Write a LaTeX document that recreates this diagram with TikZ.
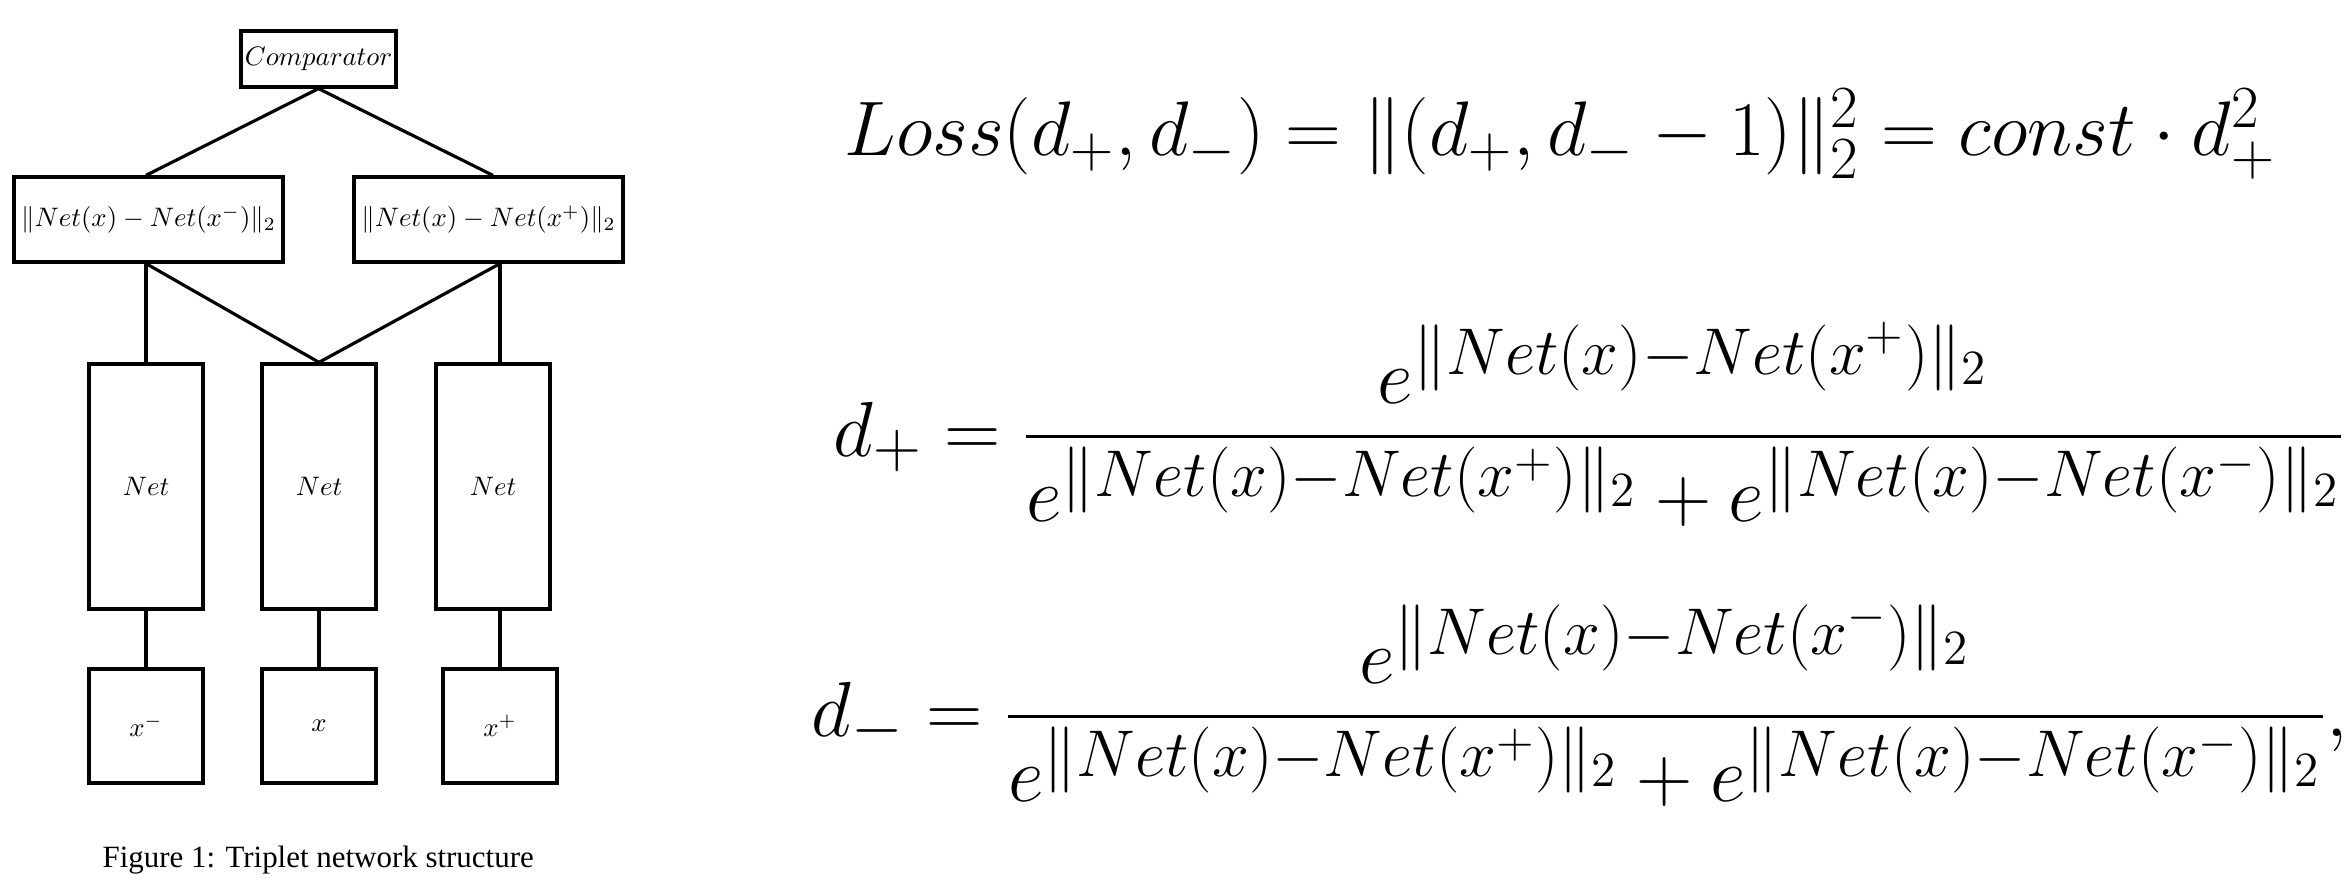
\documentclass[tikz,border=0pt]{standalone}
\usepackage{fix-cm}
\usepackage{amsmath}
\usepackage{graphicx}
\usepackage{fontspec}
\newfontfamily\captionfont{Liberation Serif}
\usetikzlibrary{positioning,calc}
\DeclareMathSizes{22}{22}{17}{13}
\DeclareMathSizes{22.2}{22.2}{18.8}{14}
\newcommand{\boxmath}[1]{\scalebox{0.76}{$#1$}}

\begin{document}
\begin{tikzpicture}[x=0.01cm, y=-0.01cm, line width=0.9pt,
    box/.style={draw, inner sep=0},
    netbox/.style={box, minimum width=1.14cm, minimum height=2.45cm},
    inbox/.style={box, minimum width=1.14cm, minimum height=1.14cm},
    normbox/.style={box, minimum width=2.69cm, minimum height=0.85cm},
    formula/.style={anchor=base west, inner sep=0, font=\fontsize{22}{26}\selectfont},
    fracline/.style={formula, font=\fontsize{22.2}{26}\selectfont}]
  \useasboundingbox (0,0) rectangle (2350,882);
  % comparator and the two distances
  \node[box, minimum width=1.55cm, minimum height=0.56cm] (cmp) at (318.5,59) {\boxmath{Comparator}};
  \node[normbox] (nmL) at (148.5,219.5) {\boxmath{\|Net(x)-Net(x^-)\|_2}};
  \node[normbox] (nmR) at (488.5,219.5) {\boxmath{\|Net(x)-Net(x^+)\|_2}};
  % the three nets
  \node[netbox] (netL) at (146,486.5) {\boxmath{Net}};
  \node[netbox] (netM) at (319,486.5) {\boxmath{Net}};
  \node[netbox] (netR) at (493,486.5) {\boxmath{Net}};
  % inputs
  \node[inbox] (inL) at (146,726) {\boxmath{x^-}};
  \node[inbox] (inM) at (319,726) {\boxmath{x}};
  \node[inbox] (inR) at (500,726) {\boxmath{x^+}};
  \node[anchor=base west, inner sep=0, font=\captionfont\fontsize{8.8}{10}\selectfont] (cap) at (101,867) {Figure 1: Triplet network structure};

  \draw (cmp.south) -- (nmL.north -| netL.north);
  \draw (cmp.south) -- (nmR.north -| netR.north);
  \draw (nmL.south -| netL.north) -- (netL.north);
  \draw (nmL.south -| netL.north) -- (netM.north);
  \draw (nmR.south -| inR.north) -- (netM.north);
  \draw (nmR.south -| inR.north) -- (netR.north -| inR.north);
  \draw (netL.south) -- (inL.north);
  \draw (netM.south) -- (inM.north);
  \draw (netR.south -| inR.north) -- (inR.north);

  % loss and the two soft distances
  \node[formula] (loss) at (843,156) {$Loss(d_+,d_-)=\|(d_+,d_- -1)\|_2^2=const\cdot d_+^2$};
  \node[fracline] (dplus) at (832,456) {$\displaystyle d_+=\frac{e^{\|Net(x)-Net(x^+)\|_2}}{e^{\|Net(x)-Net(x^+)\|_2}+e^{\|Net(x)-Net(x^-)\|_2}}$};
  \node[fracline] (dminus) at (810,736) {$\displaystyle d_-=\frac{e^{\|Net(x)-Net(x^-)\|_2}}{e^{\|Net(x)-Net(x^+)\|_2}+e^{\|Net(x)-Net(x^-)\|_2}},$};
\end{tikzpicture}
\end{document}
